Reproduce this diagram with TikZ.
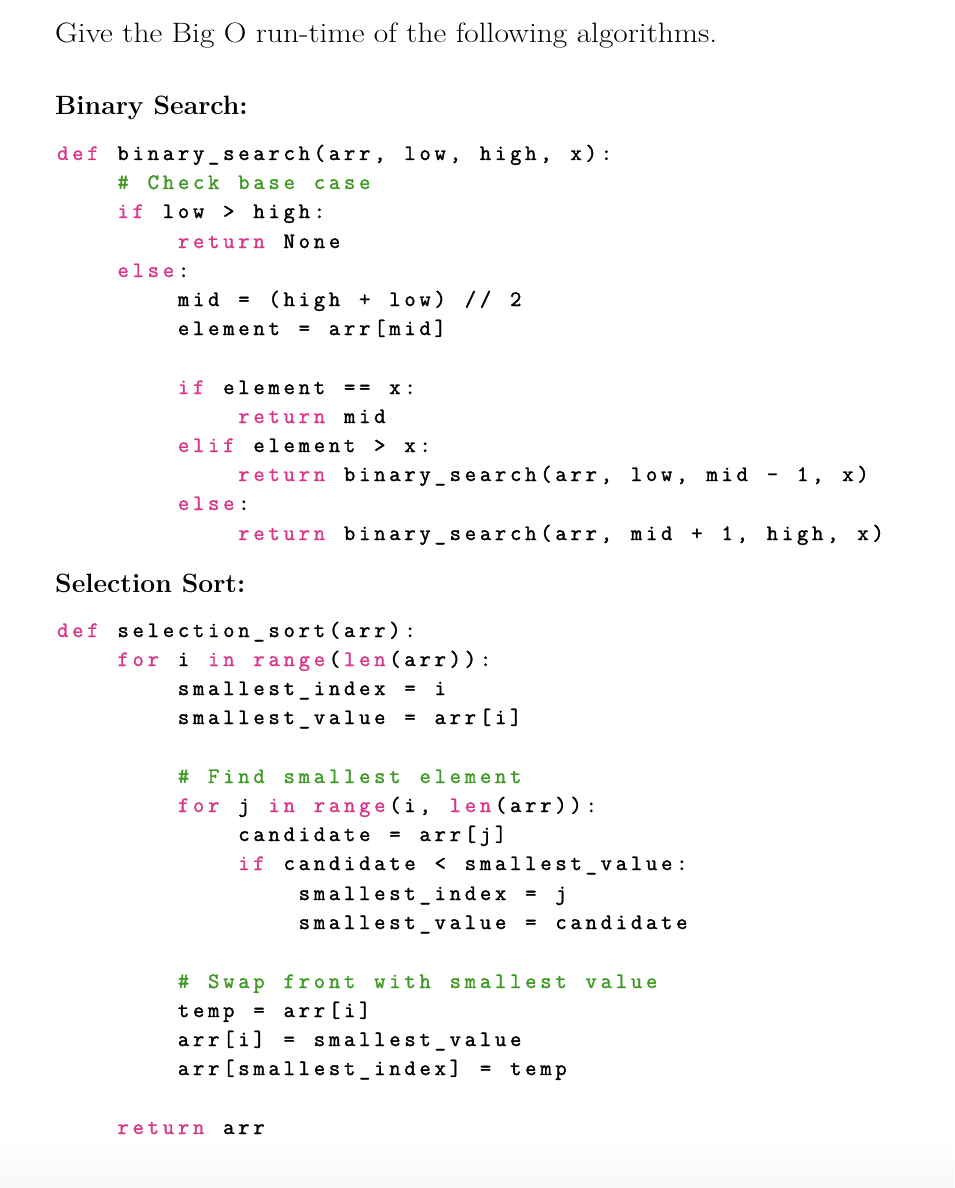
\documentclass[tikz,border=0pt]{standalone}
\usepackage{fontspec}
\usepackage{xcolor}
\newfontfamily\codefont{Latin Modern Mono}[AutoFakeBold=1.6]
\definecolor{kw}{HTML}{D8378A}
\definecolor{cm}{HTML}{3E9A24}
\newlength\cw
\setlength\cw{15.1pt}
\ExplSyntaxOn
\NewDocumentCommand\cs{m}{\str_map_inline:nn{#1}{\makebox[\cw][c]{##1}}}
\ExplSyntaxOff
\newcommand\kw[1]{\textcolor{kw}{\cs{#1}}}
\newcommand\cmt[1]{\textcolor{cm}{\makebox[\cw][c]{\#}\cs{#1}}}
\tikzset{
  code/.style={anchor=base west,inner sep=0pt,font=\fontsize{22}{26}\selectfont\codefont\bfseries},
  head/.style={anchor=base west,inner sep=0pt,font=\fontsize{26.5}{30}\selectfont\bfseries},
}
\newcommand\codeline[3]{\node[code] (l#1) at ({55pt+#2*\cw},{-#1pt-6pt}) {#3};}
\begin{document}
\begin{tikzpicture}[x=1pt,y=1pt]
\useasboundingbox (0,0) rectangle (954,-1188);
\shade[top color=white,bottom color=black!3] (0,-1140) rectangle (954,-1188);
\node[anchor=base west,inner sep=0pt,font=\fontsize{28}{32}\selectfont] (title) at (55,-43) {\scalebox{1.12}[1]{Give the Big O run-time of the following algorithms.}};
\node[head] (h1) at (55,-115) {Binary Search:};
\node[head] (h2) at (55,-592) {Selection Sort:};
\codeline{154}{0}{\kw{def}\cs{ binary_search(arr, low, high, x):}}
\codeline{183}{4}{\cmt{ Check base case}}
\codeline{212}{4}{\kw{if}\cs{ low > high:}}
\codeline{242}{8}{\kw{return}\cs{ None}}
\codeline{271}{4}{\kw{else}\cs{:}}
\codeline{300}{8}{\cs{mid = (high + low) // 2}}
\codeline{329}{8}{\cs{element = arr[mid]}}
\codeline{388}{8}{\kw{if}\cs{ element == x:}}
\codeline{417}{12}{\kw{return}\cs{ mid}}
\codeline{446}{8}{\kw{elif}\cs{ element > x:}}
\codeline{475}{12}{\kw{return}\cs{ binary_search(arr, low, mid - 1, x)}}
\codeline{504}{8}{\kw{else}\cs{:}}
\codeline{534}{12}{\kw{return}\cs{ binary_search(arr, mid + 1, high, x)}}
\codeline{631}{0}{\kw{def}\cs{ selection_sort(arr):}}
\codeline{660}{4}{\kw{for}\cs{ i }\kw{in}\cs{ }\kw{range}\cs{(}\kw{len}\cs{(arr)):}}
\codeline{689}{8}{\cs{smallest_index = i}}
\codeline{718}{8}{\cs{smallest_value = arr[i]}}
\codeline{777}{8}{\cmt{ Find smallest element}}
\codeline{806}{8}{\kw{for}\cs{ j }\kw{in}\cs{ }\kw{range}\cs{(i, }\kw{len}\cs{(arr)):}}
\codeline{835}{12}{\cs{candidate = arr[j]}}
\codeline{864}{12}{\kw{if}\cs{ candidate < smallest_value:}}
\codeline{894}{16}{\cs{smallest_index = j}}
\codeline{923}{16}{\cs{smallest_value = candidate}}
\codeline{982}{8}{\cmt{ Swap front with smallest value}}
\codeline{1011}{8}{\cs{temp = arr[i]}}
\codeline{1040}{8}{\cs{arr[i] = smallest_value}}
\codeline{1069}{8}{\cs{arr[smallest_index] = temp}}
\codeline{1128}{4}{\kw{return}\cs{ arr}}
\end{tikzpicture}
\end{document}
